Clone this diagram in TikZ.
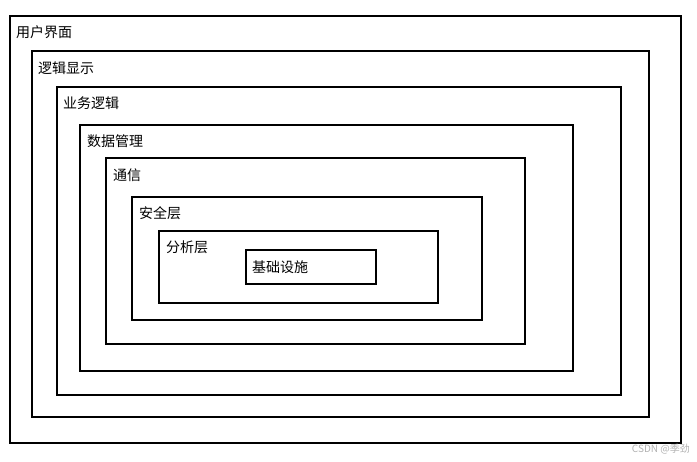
\documentclass[tikz,border=0pt]{standalone}
\usepackage{fontspec}
\setmainfont{Noto Sans CJK SC}
\begin{document}
\begin{tikzpicture}[x=1pt,y=-1pt,
  layer/.style={draw=black,line width=2pt},
  lbl/.style={anchor=west,inner sep=0pt,font=\fontsize{14}{16}\selectfont}]
\useasboundingbox (0,0) rectangle (697,462);
\draw[layer] (10,16) rectangle (681,443);
\node[lbl] (l1) at (16,32) {用户界面};
\draw[layer] (32,51) rectangle (649,417);
\node[lbl] (l2) at (38,68) {逻辑显示};
\draw[layer] (57,87) rectangle (621,395);
\node[lbl] (l3) at (63,103) {业务逻辑};
\draw[layer] (80,125) rectangle (573,371);
\node[lbl] (l4) at (87,141) {数据管理};
\draw[layer] (106,158) rectangle (525,344);
\node[lbl] (l5) at (113,175) {通信};
\draw[layer] (132,197) rectangle (482,320);
\node[lbl] (l6) at (139,213) {安全层};
\draw[layer] (159,231) rectangle (438,303);
\node[lbl] (l7) at (166,247) {分析层};
\draw[layer] (246,250) rectangle (376,284);
\node[lbl] (l8) at (252,267) {基础设施};
\node[anchor=east,inner sep=0pt,text=gray!60,font=\fontsize{10}{11}\selectfont] (wm) at (690,449) {CSDN @季劲};
\end{tikzpicture}
\end{document}
